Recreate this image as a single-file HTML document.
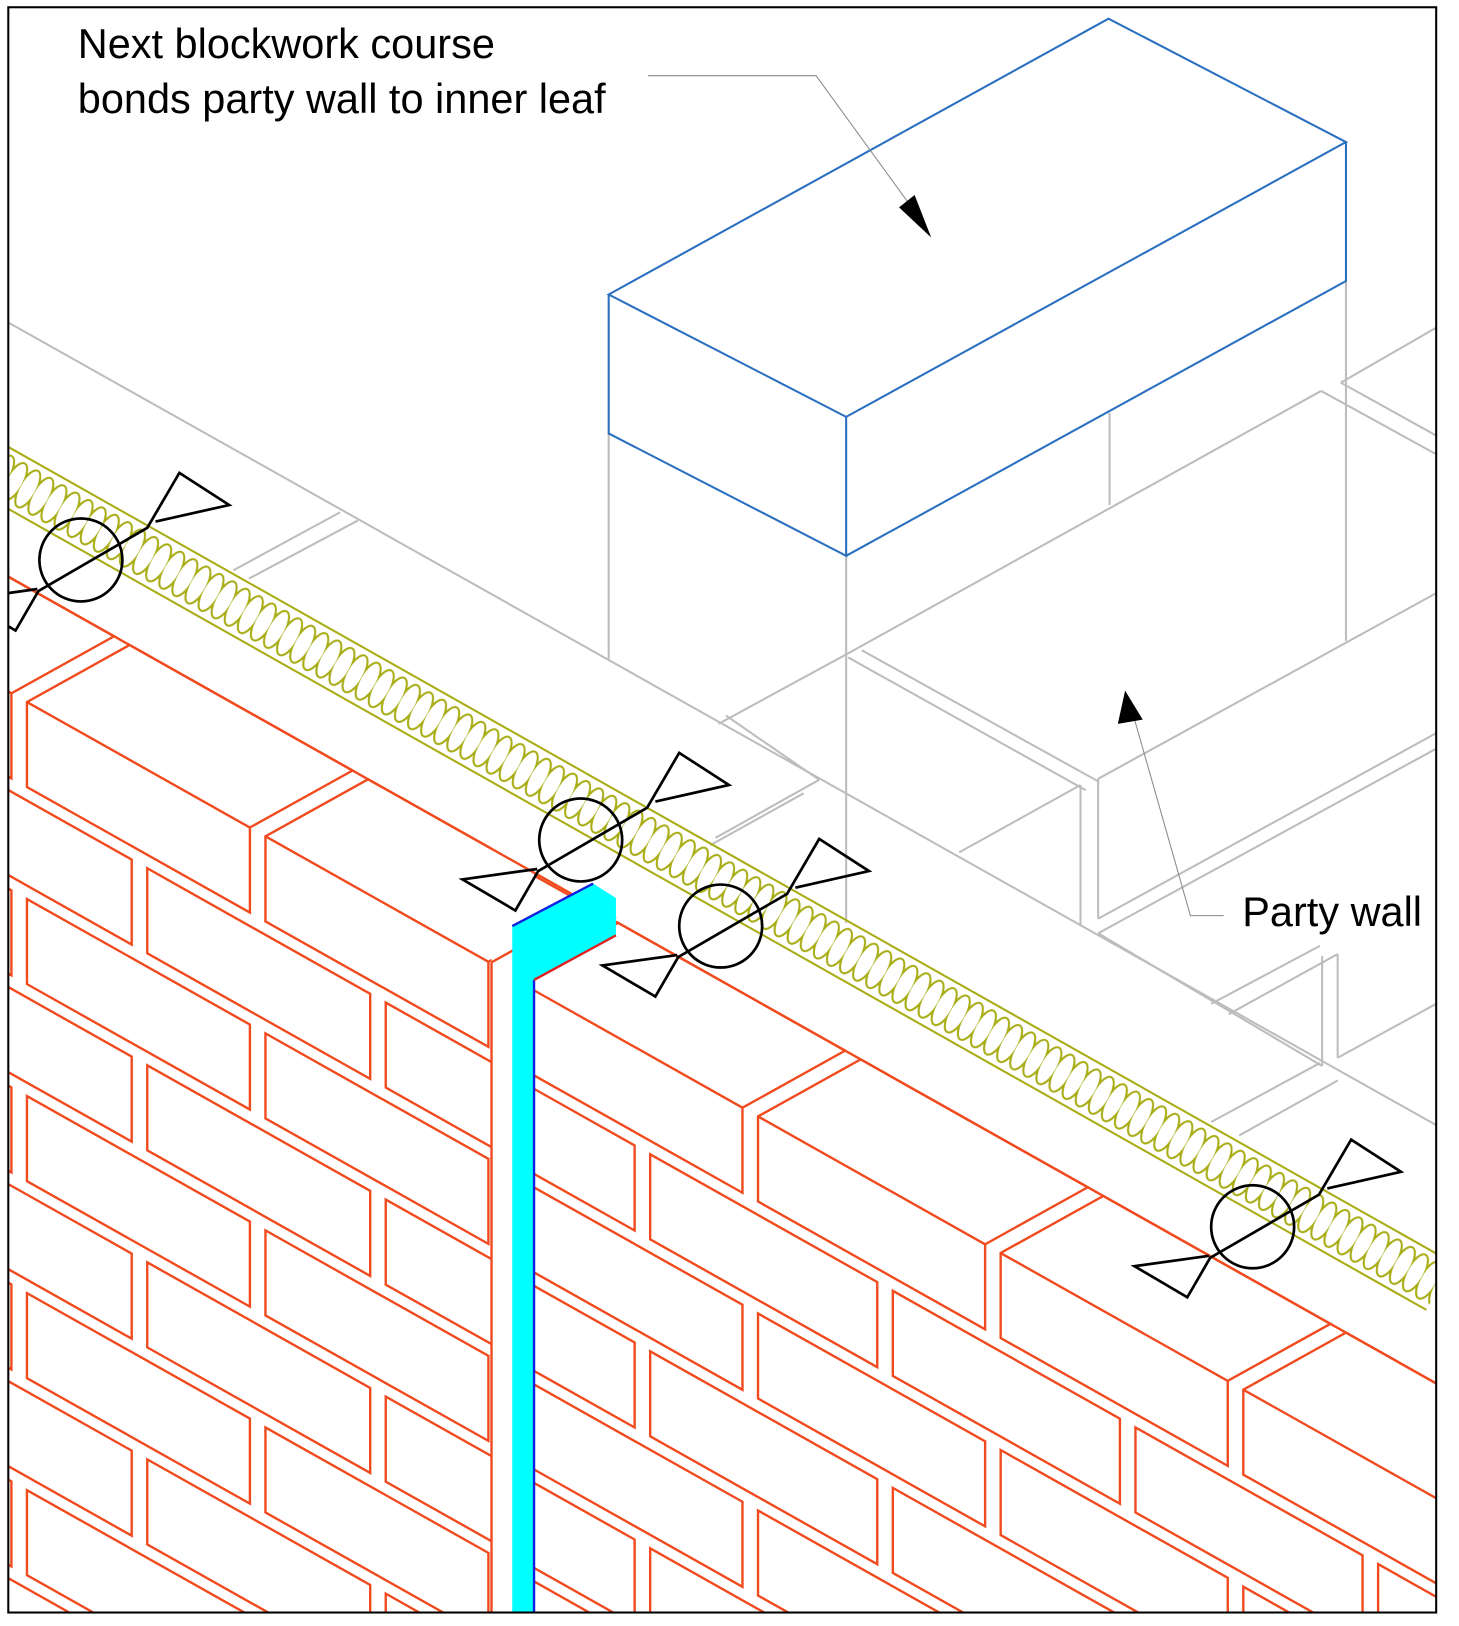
<!DOCTYPE html>
<html><head><meta charset="utf-8"><style>
html,body{margin:0;padding:0;background:#fff;overflow:hidden;width:1459px;height:1626px}
svg{display:block}
text{font-family:"Liberation Sans",Arial,sans-serif;fill:#000}
</style></head><body>
<svg id="s" xmlns="http://www.w3.org/2000/svg" width="1459" height="1626" viewBox="0 0 1407 1568" preserveAspectRatio="none">
<defs>
<clipPath id="cl"><rect x="8" y="0" width="466" height="1555"/></clipPath>
<clipPath id="cr"><rect x="515" y="0" width="870" height="1555"/></clipPath>
<clipPath id="cf"><rect x="8" y="7" width="1377" height="1548"/></clipPath>
<pattern id="coil" patternUnits="userSpaceOnUse" width="14.5" height="52">
<ellipse cx="7.25" cy="26" rx="8" ry="20" fill="none" stroke="#a8ad16" stroke-width="2"/>
</pattern>
<g id="tie" fill="none" stroke="#000" stroke-width="2.6" stroke-linejoin="miter">
<circle cx="0" cy="0" r="40"/>
<polyline points="72,-37 143,-53 95,-84 64,-31 -41,30 -63,68 -114,38 -42,28"/>
</g>
</defs>
<rect x="0" y="0" width="1407" height="1568" fill="#fff"/>
<g clip-path="url(#cf)">
<g fill="none" stroke="#bdbdbd" stroke-width="2">
<line x1="8" y1="311" x2="1385" y2="1085"/>
<line x1="587" y1="418" x2="587" y2="636"/>
<line x1="816" y1="536" x2="816" y2="890"/>
<line x1="1298" y1="271" x2="1298" y2="618"/>
<line x1="1070" y1="398" x2="1070" y2="487"/>
<line x1="225" y1="550" x2="328" y2="494"/>
<line x1="240" y1="558" x2="345" y2="502"/>
<line x1="693" y1="698" x2="818" y2="630"/>
<line x1="818" y1="630" x2="1274" y2="377"/>
<line x1="831" y1="627" x2="1060" y2="754"/>
<line x1="818" y1="634" x2="1047" y2="762"/>
<line x1="1059" y1="751" x2="1385" y2="572"/>
<line x1="1293" y1="369" x2="1385" y2="316"/>
<line x1="1274" y1="377" x2="1385" y2="438"/>
<line x1="1293" y1="369" x2="1385" y2="420"/>
<line x1="1042" y1="757" x2="1042" y2="892"/>
<line x1="1059" y1="751" x2="1059" y2="886"/>
<line x1="1059" y1="886" x2="1385" y2="707"/>
<line x1="1059" y1="900" x2="1385" y2="722"/>
<line x1="700" y1="690" x2="790" y2="752"/>
<line x1="790" y1="752" x2="690" y2="808"/>
<line x1="775" y1="765" x2="685" y2="815"/>
<line x1="925" y1="822" x2="1042" y2="757"/>
<line x1="1168" y1="968" x2="1273" y2="912"/>
<line x1="1185" y1="978" x2="1290" y2="920"/>
<line x1="1275" y1="922" x2="1275" y2="1028"/>
<line x1="1290" y1="920" x2="1290" y2="1020"/>
<line x1="1290" y1="1020" x2="1385" y2="968"/>
<line x1="1168" y1="1082" x2="1273" y2="1025"/>
<line x1="1195" y1="1095" x2="1290" y2="1042"/>
<line x1="1059" y1="900" x2="1275" y2="1028"/>
</g>
<g transform="translate(8,431) rotate(29.46)">
<rect x="0" y="0" width="1600" height="52" fill="url(#coil)"/>
<line x1="0" y1="0" x2="1600" y2="0" stroke="#a8ad16" stroke-width="2"/>
<line x1="0" y1="52" x2="1600" y2="52" stroke="#a8ad16" stroke-width="2"/>
</g>
<g id="bricks" fill="#fff" stroke="#f04a1e" stroke-width="2.3"></g>
<polygon points="494,893 572,852 594,866 594,902 515,945 515,1555 494,1555" fill="#00ffff"/>
<line x1="494" y1="893" x2="572" y2="852" stroke="#1020e0" stroke-width="2.3"/>
<line x1="515" y1="945" x2="515" y2="1555" stroke="#1020e0" stroke-width="2.3"/>
<line x1="515" y1="945" x2="594" y2="902" stroke="#e02020" stroke-width="2.3"/>
<g fill="none" stroke="#2b6fc0" stroke-width="2">
<polygon points="587,284 1069,18 1298,137 816,402"/>
<polyline points="587,284 587,418 816,536 816,402"/>
<polyline points="816,536 1298,271 1298,137"/>
</g>
<use href="#tie" x="78" y="540"/>
<use href="#tie" x="560" y="810"/>
<use href="#tie" x="695" y="893"/>
<use href="#tie" x="1208" y="1183"/>
<polyline points="625,73 787,73 885,208" fill="none" stroke="#888" stroke-width="1"/>
<polygon points="898,229 867,200 882,188" fill="#000"/>
<polyline points="1180,883 1148,883 1093,690" fill="none" stroke="#888" stroke-width="1"/>
<polygon points="1085,666 1078,698 1102,694" fill="#000"/>
</g>
<text x="75" y="56" font-size="40">Next blockwork course</text>
<text x="75" y="109" font-size="40">bonds party wall to inner leaf</text>
<text x="1198" y="893" font-size="40">Party wall</text>
<rect x="8" y="7" width="1377" height="1548" fill="none" stroke="#000" stroke-width="2"/>
</svg>
<script>
(function(){
var NS="http://www.w3.org/2000/svg",g=document.getElementById("bricks");
var s=0.563,dx=99,dy=-55,H=82;
function wall(clip,x0,y0,startEven,startOdd,pitch,len,xmin,xmax,backFrom,backTo){
 var grp=document.createElementNS(NS,"g");grp.setAttribute("clip-path","url(#"+clip+")");g.appendChild(grp);
 function yt(x,k){return y0+s*(x-x0)+95*k;}
 for(var k=0;k<11;k++){
  var st=(k%2?startOdd:startEven);
  while(st>xmin-pitch)st-=pitch;
  for(var xs=st;xs<xmax+pitch;xs+=pitch){
   var xe=xs+len,a=yt(xs,k),b=yt(xe,k);
   var pts=[[xs,a+H],[xs,a]];
   if(k==0){pts.push([xs+dx,a+dy]);pts.push([xe+dx,b+dy]);}
   pts.push([xe,b]);pts.push([xe,b+H]);
   var p=document.createElementNS(NS,"polygon");
   p.setAttribute("points",pts.map(function(q){return q[0].toFixed(1)+","+q[1].toFixed(1)}).join(" "));
   grp.appendChild(p);
   if(k==0){var l=document.createElementNS(NS,"line");l.setAttribute("x1",xs);l.setAttribute("y1",a);l.setAttribute("x2",xe);l.setAttribute("y2",b);grp.appendChild(l);}
  }
 }
 var l=document.createElementNS(NS,"line");
 l.setAttribute("x1",backFrom);l.setAttribute("y1",y0+s*(backFrom-dx-x0)+dy);
 l.setAttribute("x2",backTo);l.setAttribute("y2",y0+s*(backTo-dx-x0)+dy);
 l.setAttribute("fill","none");g.appendChild(l);
}
wall("cl",26,677,26,142,230,215,8,474,8,594);
wall("cr",515,955,731,627,234,219,515,1385,594,1385);
var v=document.createElementNS(NS,"line");v.setAttribute("x1",474);v.setAttribute("y1",928);v.setAttribute("x2",474);v.setAttribute("y2",1555);g.appendChild(v);
var v2=document.createElementNS(NS,"line");v2.setAttribute("x1",474);v2.setAttribute("y1",928);v2.setAttribute("x2",573);v2.setAttribute("y2",873);g.appendChild(v2);
})();
</script>
</body></html>
